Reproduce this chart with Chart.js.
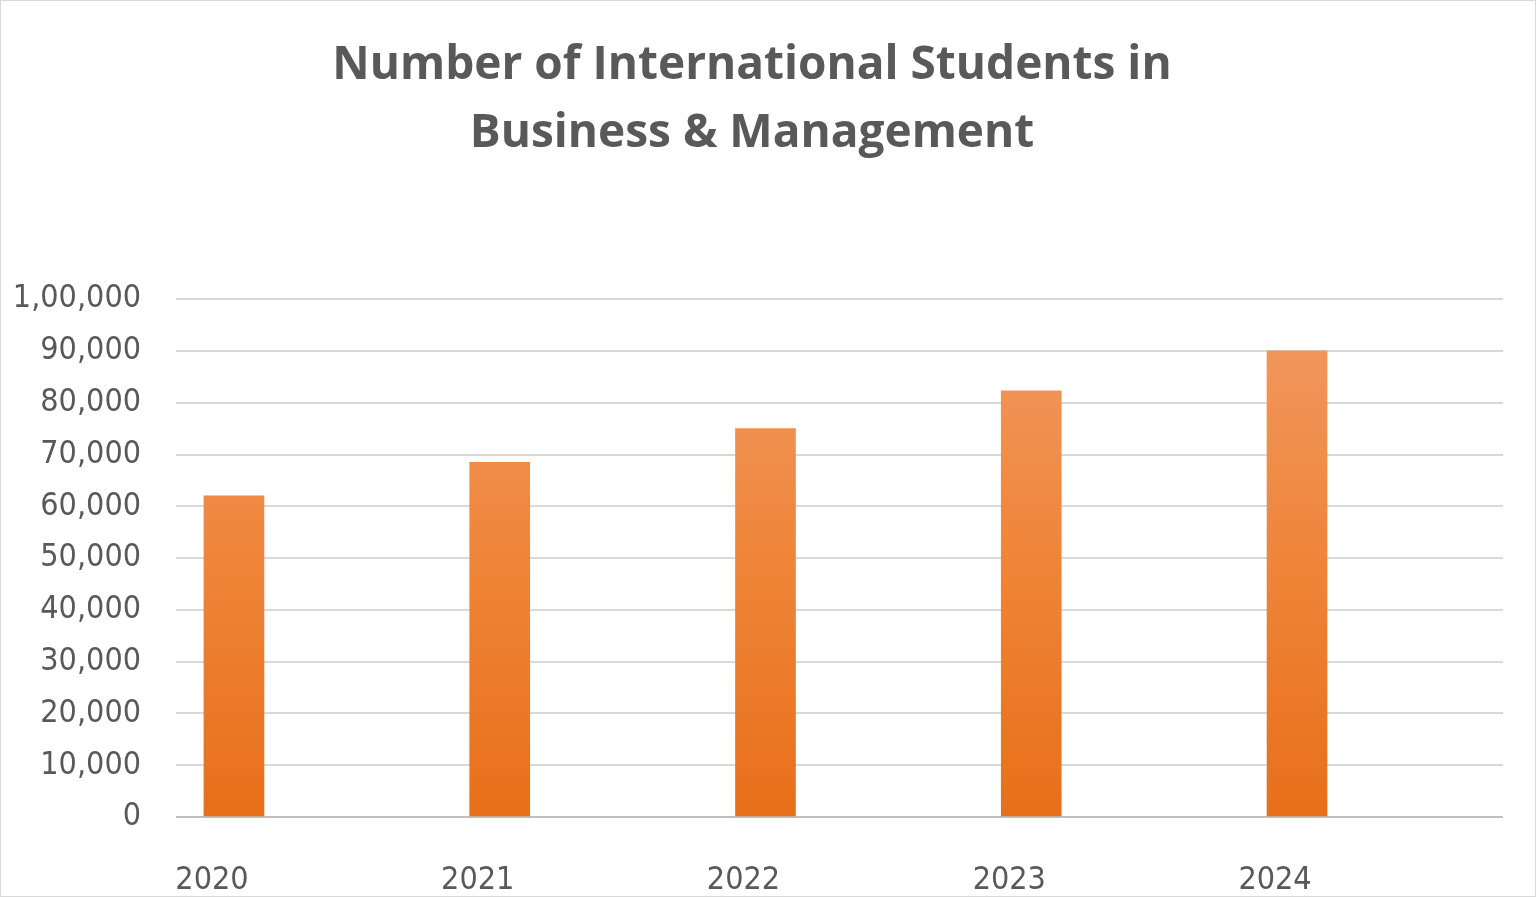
<!DOCTYPE html>
<html><head><meta charset="utf-8">
<script src="https://cdn.jsdelivr.net/npm/chart.js@4"></script>
<style>html,body{margin:0;padding:0;background:#fff}#w{width:1534px;height:895px;border:1px solid #d9d9d9;position:relative}</style>
</head><body><div id="w"><canvas id="c"></canvas></div>
<script>
const categories=["2020","2021","2022","2023","2024"];
const students=[62000,68500,75000,82300,90000];
const yTicks=["0","10,000","20,000","30,000","40,000","50,000","60,000","70,000","80,000","90,000","1,00,000"];
const pts=students.map((v,i)=>({x:i,y:v}));
new Chart(document.getElementById('c'),{
type:'bar',
data:{datasets:[{data:pts,barThickness:60,
backgroundColor:(ctx)=>{const a=ctx.chart.chartArea;if(!a)return '#ED7D31';
const g=ctx.chart.ctx.createLinearGradient(0,a.top,0,a.bottom);g.addColorStop(0,'#F19A64');g.addColorStop(0.5,'#EF8539');g.addColorStop(1,'#E86F19');return g;}}]},
options:{responsive:true,maintainAspectRatio:false,animation:false,
layout:{padding:{left:0,right:32,top:0,bottom:0}},
plugins:{legend:{display:false},tooltip:{enabled:false},
title:{display:true,text:["Number of International Students in","Business & Management"],color:'#595959',
font:{family:'Open Sans',size:46,weight:'bold',lineHeight:1.48},padding:{top:31,bottom:131}}},
scales:{
x:{type:'linear',min:-0.218,max:4.775,offset:false,bounds:'ticks',grid:{display:false,offset:false},border:{display:false},
afterFit:s=>{s.height=79;},
afterBuildTicks:s=>{s.ticks=categories.map((c,i)=>({value:i}));},
ticks:{autoSkip:false,labelOffset:-22,padding:36,color:'#595959',font:{family:'DejaVu Sans Condensed',size:32},
callback:(v)=>categories[Math.round(v)]}},
y:{min:0,max:100000,afterFit:s=>{s.width=175;},
grid:{color:(c)=>c.tick.value===0?'#bfbfbf':'#d9d9d9',lineWidth:2,drawTicks:false},border:{display:false},
ticks:{stepSize:10000,padding:35,color:'#595959',font:{family:'DejaVu Sans Condensed',size:32},
callback:(v)=>yTicks[Math.round(v/10000)]}}}}
});
</script></body></html>
